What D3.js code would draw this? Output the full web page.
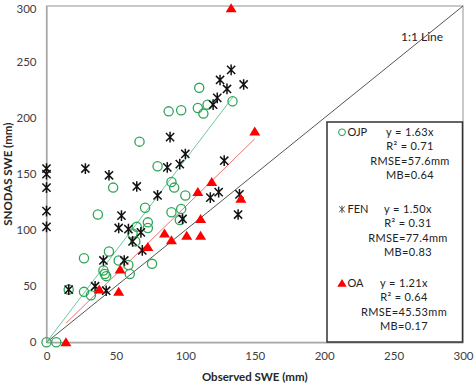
<!DOCTYPE html>
<html><head><meta charset="utf-8">
<script src="https://cdn.jsdelivr.net/npm/d3@7"></script>
<style>body{margin:0;background:#fff}svg{display:block}text{font-family:Lato,"Open Sans",sans-serif}</style>
</head><body><svg id="c" width="474" height="384"></svg>
<script>
// ---- data ----
const xTicks = [0, 50, 100, 150, 200, 250, 300];
const yTicks = [0, 50, 100, 150, 200, 250, 300];
const ojp = [[0,0],[7,0],[16,47],[27,45],[32,42],[27,75],[37,114],[41,64],[42,61],[43,59],[45,81],[52,73],[59,69],[60,61],[62,97],[64,90],[65,103],[76,70],[71,120],[73,107],[73,102],[48,138],[67,179],[80,157],[90,143],[92,138],[100,131],[90,116],[97,119],[96,109],[88,206],[97,207],[109,209],[116,212],[113,204],[110,227],[134,215]];
const fen = [[0,155],[0,150],[0,138],[0,117],[0,103],[16,47],[28,155],[35,50],[43,46],[41,73],[45,149],[52,102],[54,113],[56,73],[59,101],[62,90],[65,139],[68,98],[69,82],[80,131],[87,156],[89,183],[96,159],[98,110],[100,168],[118,129],[124,134],[120,212],[123,218],[125,234],[128,162],[130,226],[133,243],[139,132],[138,114],[142,230]];
const oa = [[14,0],[38,47],[52,45],[53,65],[73,85],[85,97],[90,91],[101,95],[111,95],[111,110],[109,134],[119,143],[140,128],[150,188],[133,298]];
const slopes = {ojp:1.63, oa:1.21};
const legendNames = ["OJP","FEN","OA"];
const legendStats = [
  ["y = 1.63x","R² = 0.71","RMSE=57.6mm","MB=0.64"],
  ["y = 1.50x","R² = 0.31","RMSE=77.4mm","MB=0.83"],
  ["y = 1.21x","R² = 0.64","RMSE=45.53mm","MB=0.17"]
];
// ---- layout ----
const W=474,H=384, L=46.5, R=463, T=6, B=342.3;
const svg=d3.select("#c");
const x=d3.scaleLinear().domain([0,300]).range([L,R]);
const y=d3.scaleLinear().domain([0,300]).range([B,T]);
const axisCol="#a6a6a6", txtCol="#404040";
const green="#2fa558", greenLine="#6cc99a", red="#ff0000", redLine="#f07070";

// frame
svg.append("rect").attr("x",L).attr("y",T).attr("width",R-L).attr("height",B-T)
  .attr("fill","none").attr("stroke",axisCol).attr("stroke-width",1.2);

// axes (labels only)
const xa=svg.append("g").attr("transform",`translate(0,${B})`)
  .call(d3.axisBottom(x).tickValues(xTicks).tickSize(0).tickPadding(10));
const ya=svg.append("g").attr("transform",`translate(${L},0)`)
  .call(d3.axisLeft(y).tickValues(yTicks).tickSize(0).tickPadding(10));
[xa,ya].forEach(g=>{g.select(".domain").attr("stroke",axisCol).attr("stroke-width",1.2);
  g.selectAll("text").attr("fill",txtCol).attr("font-size",11.5).attr("font-family","Lato, sans-serif");});
ya.selectAll(".tick").filter(d=>d===300).select("text").attr("dy","0.55em");

// axis titles
svg.append("text").attr("x",(L+R)/2).attr("y",381).attr("text-anchor","middle")
  .attr("font-weight","bold").attr("font-size",11.5).attr("fill","#262626").text("Observed SWE (mm)");
svg.append("text").attr("transform",`translate(12,${(T+B)/2}) rotate(-90)`).attr("text-anchor","middle")
  .attr("font-weight","bold").attr("font-size",11.5).attr("fill","#262626").text("SNODAS SWE (mm)");

// 1:1 line
svg.append("line").attr("x1",x(0)).attr("y1",y(0)).attr("x2",x(300)).attr("y2",y(300))
  .attr("stroke","#555").attr("stroke-width",1);
svg.append("text").attr("x",401).attr("y",41).attr("font-size",12).attr("fill","#222").text("1:1 Line");

// regression lines
function regLine(data,slope,col){
  const xs=data.map(d=>d[0]); const x0=d3.min(xs), x1=d3.max(xs);
  svg.append("line").attr("x1",x(x0)).attr("y1",y(slope*x0)).attr("x2",x(x1)).attr("y2",y(slope*x1))
    .attr("stroke",col).attr("stroke-width",1);
}
regLine(ojp,slopes.ojp,greenLine);
regLine(oa,slopes.oa,redLine);

// markers
function starPath(s){return `M${-s},${-s}L${s},${s}M${-s},${s}L${s},${-s}M0,${-s*1.3}L0,${s*1.3}`;}
function triPath(s){return `M0,${-s}L${s*1.1},${s*0.8}L${-s*1.1},${s*0.8}Z`;}
svg.append("g").selectAll("circle").data(ojp).join("circle")
  .attr("cx",d=>x(d[0])).attr("cy",d=>y(d[1])).attr("r",4.6)
  .attr("fill","none").attr("stroke",green).attr("stroke-width",1.3);
svg.append("g").selectAll("path").data(fen).join("path")
  .attr("transform",d=>`translate(${x(d[0])},${y(d[1])})`).attr("d",starPath(4.1))
  .attr("fill","none").attr("stroke","#111").attr("stroke-width",1.5);
svg.append("g").selectAll("path").data(oa).join("path")
  .attr("transform",d=>`translate(${x(d[0])},${y(d[1])})`).attr("d",triPath(5))
  .attr("fill",red);

// legend
const lg=svg.append("g");
lg.append("rect").attr("x",327).attr("y",122).attr("width",135.5).attr("height",220)
  .attr("fill","#fff").attr("stroke","#333").attr("stroke-width",1.5);
const groupY=[132.3,209.3,283.3], statX=[410,408,404];
legendNames.forEach((n,i)=>{
  const gy=groupY[i];
  const m=lg.append("g").attr("transform",`translate(342,${gy})`);
  if(i===0) m.append("circle").attr("r",3.3).attr("fill","none").attr("stroke",green).attr("stroke-width",1.1);
  if(i===1) m.append("path").attr("d",starPath(2.8)).attr("fill","none").attr("stroke","#444").attr("stroke-width",1);
  if(i===2) m.append("path").attr("d",triPath(4.3)).attr("fill",red);
  lg.append("text").attr("x",347.5).attr("y",gy).attr("dy","0.35em").attr("font-size",11).attr("fill","#222").text(n);
  legendStats[i].forEach((s,j)=>{
    lg.append("text").attr("x",statX[i]).attr("y",gy+[0,13.4,28.4,42.7][j]).attr("dy","0.35em")
      .attr("text-anchor","middle").attr("font-size",11).attr("letter-spacing","0.35px").attr("fill","#222").text(s);
  });
});
</script></body></html>
